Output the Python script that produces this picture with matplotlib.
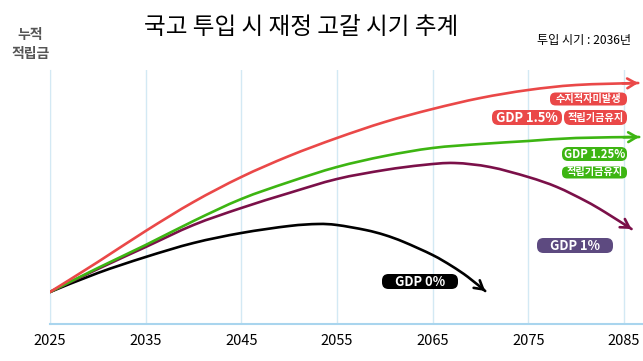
import matplotlib
matplotlib.use("Agg")
from matplotlib import pyplot as plt
from matplotlib.path import Path
from matplotlib.patches import PathPatch, FancyBboxPatch
from matplotlib.transforms import IdentityTransform

plt.rcParams['font.family'] = ['Noto Sans CJK KR', 'DejaVu Sans']

years_ticks = [2025, 2035, 2045, 2055, 2065, 2075, 2085]

# fund curves (arbitrary units)
red_x = [2025, 2030, 2035, 2040, 2045, 2050, 2055, 2060, 2065, 2070, 2075, 2080, 2086.5]
red_y = [32, 62, 93, 122, 147, 168, 186, 202, 215, 226, 234, 239, 241]

green_x = [2025, 2030, 2035, 2040, 2045, 2050, 2055, 2060, 2065, 2070, 2075, 2080, 2086.6]
green_y = [32, 56, 79, 103, 125, 142, 157, 168, 176, 180, 183, 186, 187]

purple_x = [2025, 2030, 2035, 2040, 2045, 2050, 2055, 2060, 2064, 2067.3, 2071, 2075, 2078, 2081, 2083, 2085.8]
purple_y = [32, 55, 77, 99, 116, 131, 145, 154, 159, 161, 157, 147, 137, 123, 112, 95]

black_x = [2025, 2030, 2035, 2040, 2045, 2050, 2053, 2055, 2058, 2060, 2062, 2065, 2067, 2068.7, 2070.5]
black_y = [32, 51, 67, 81, 91, 98, 100, 99, 94, 89, 82, 69, 58, 47, 33]

RED = '#ea4848'
GREEN = '#3db512'
PURPLE = '#7b1049'
PURPLE_LBL = '#5d4a80'
GRID = '#d3e9f4'


def smooth_path(xs, ys):
    # Catmull-Rom through the read points, drawn as cubic Bezier segments
    pts = list(zip(xs, ys))
    verts = [pts[0]]
    codes = [Path.MOVETO]
    n = len(pts)
    for i in range(n - 1):
        p0 = pts[max(i - 1, 0)]
        p1 = pts[i]
        p2 = pts[i + 1]
        p3 = pts[min(i + 2, n - 1)]
        c1 = (p1[0] + (p2[0] - p0[0]) / 6, p1[1] + (p2[1] - p0[1]) / 6)
        c2 = (p2[0] - (p3[0] - p1[0]) / 6, p2[1] - (p3[1] - p1[1]) / 6)
        verts += [c1, c2, p2]
        codes += [Path.CURVE4] * 3
    return Path(verts, codes)


fig = plt.figure(figsize=(6.43, 3.61), dpi=100)
ax = fig.add_axes([50 / 643, 37 / 361, 593 / 643, 254 / 361])
ax.set_xlim(2025, 2087.0)
ax.set_ylim(0, 254)

for xs, ys, c in [(black_x, black_y, 'black'), (purple_x, purple_y, PURPLE),
                  (green_x, green_y, GREEN), (red_x, red_y, RED)]:
    ax.add_patch(PathPatch(smooth_path(xs, ys), fc='none', ec=c, lw=1.9,
                           capstyle='round', zorder=3))
    tail = (xs[-1] - (xs[-1] - xs[-2]) * 0.25, ys[-1] - (ys[-1] - ys[-2]) * 0.25)
    ax.annotate('', xy=(xs[-1], ys[-1]), xytext=tail,
                arrowprops=dict(arrowstyle='->,head_length=0.6,head_width=0.35',
                                color=c, lw=1.9, shrinkA=0, shrinkB=0), zorder=3)

ax.set_xticks(years_ticks)
ax.set_xticklabels([str(y) for y in years_ticks], fontsize=10.5)
ax.tick_params(axis='x', length=0, pad=7)
ax.set_yticks([])
ax.grid(axis='x', color=GRID, lw=1)
for s in ['top', 'right']:
    ax.spines[s].set_visible(False)
ax.spines['left'].set_color(GRID)
ax.spines['bottom'].set_color('#a9d5ee')
ax.spines['bottom'].set_linewidth(1.5)


def tag(px, py, w, h, text, color, size):
    # px, py: centre in pixels from top-left of the figure
    y = 361 - py
    box = FancyBboxPatch((px - w / 2, y - h / 2), w, h,
                         boxstyle='round,pad=0,rounding_size=%g' % (h / 2.3),
                         fc=color, ec='none', transform=IdentityTransform(), zorder=5)
    fig.patches.append(box)
    fig.text(px / 643, y / 361, text, color='white', fontsize=size, ha='center',
             va='center', fontweight='bold', zorder=6)


tag(588.5, 99, 77, 13, '수지적자미발생', RED, 7.3)
tag(527, 117.5, 70, 15, 'GDP 1.5%', RED, 9.3)
tag(595.5, 117.5, 63, 15, '적립기금유지', RED, 7.3)
tag(594.5, 154, 65, 14, 'GDP 1.25%', GREEN, 8.2)
tag(594.5, 172.5, 65, 12, '적립기금유지', GREEN, 7.3)
tag(575, 245.5, 76, 15, 'GDP 1%', PURPLE_LBL, 9.3)
tag(420, 281.5, 76, 15, 'GDP 0%', 'black', 9.3)

fig.text(0.469, 0.925, '국고 투입 시 재정 고갈 시기 추계', fontsize=17, ha='center', va='center')
fig.text(0.047, 0.877, '누적\n적립금', fontsize=10, ha='center', va='center',
         color='#555555', fontweight='bold', linespacing=1.5)
fig.text(0.981, 0.889, '투입 시기 : 2036년', fontsize=8.7, ha='right', va='center')

fig.savefig('out.png', dpi=100)
